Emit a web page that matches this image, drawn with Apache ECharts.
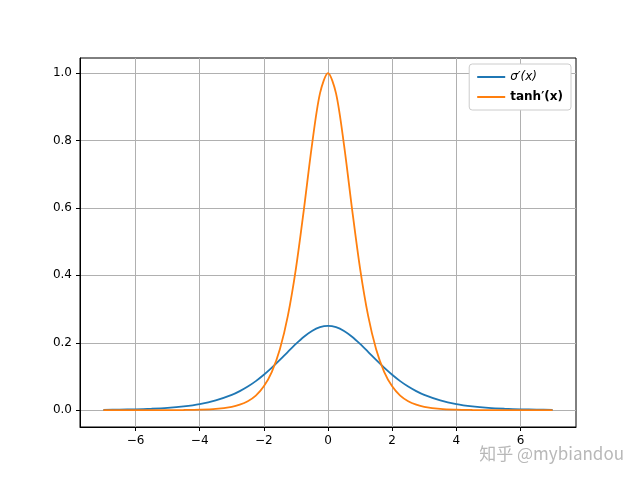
<html>
<head>
<script src="https://cdn.jsdelivr.net/npm/echarts@6/dist/echarts.min.js"></script>
</head>
<body style="margin:0">
<div id="main" style="width:640px;height:480px;"></div>
<script>
// x samples and curve values
var xs = [-7,-6.5,-6,-5.5,-5,-4.5,-4,-3.5,-3,-2.75,-2.5,-2.25,-2,-1.75,-1.5,-1.25,-1,-0.75,-0.5,-0.25,0,
          0.25,0.5,0.75,1,1.25,1.5,1.75,2,2.25,2.5,2.75,3,3.5,4,4.5,5,5.5,6,6.5,7];
var sigmaD = [0.0009,0.0015,0.0025,0.0041,0.0066,0.0109,0.0177,0.0287,0.0452,0.0565,0.0701,0.0862,0.1050,0.1261,0.1491,0.1731,0.1966,0.2179,0.2350,0.2461,0.25,
              0.2461,0.2350,0.2179,0.1966,0.1731,0.1491,0.1261,0.1050,0.0862,0.0701,0.0565,0.0452,0.0287,0.0177,0.0109,0.0066,0.0041,0.0025,0.0015,0.0009];
var tanhD = [0,0,0,0.0001,0.0002,0.0005,0.0013,0.0036,0.0099,0.0163,0.0266,0.0432,0.0707,0.1138,0.1807,0.2804,0.42,0.5967,0.7864,0.940,1,
             0.940,0.7864,0.5967,0.42,0.2804,0.1807,0.1138,0.0707,0.0432,0.0266,0.0163,0.0099,0.0036,0.0013,0.0005,0.0002,0.0001,0,0,0];
var xTicks = [-6,-4,-2,0,2,4,6];
var yTicks = [0,0.2,0.4,0.6,0.8,1.0];

function pairs(v) { return xs.map(function (x, i) { return [x, v[i]]; }); }

var chart = echarts.init(document.getElementById('main'));
chart.setOption({
  animation: false,
  textStyle: {fontFamily: 'DejaVu Sans'},
  graphic: [{type: 'text', right: 16, bottom: 18, style: {text: '知乎 @mybiandou', fill: '#b8b8b8', fontSize: 17, fontFamily: 'Noto Sans CJK SC'}}],
  grid: {left: 80, right: 64, top: 58, bottom: 53, show: true, borderColor: '#000', borderWidth: 1},
  legend: {
    right: 69, top: 64, orient: 'vertical', itemWidth: 28, itemHeight: 2, itemGap: 8,
    backgroundColor: '#fff', borderColor: '#ccc', borderWidth: 1, borderRadius: 3, padding: [7, 8],
    icon: 'rect',
    formatter: function (n) { return n === 's' ? '{i|σ′(x)}' : '{b|tanh′(x)}'; },
    textStyle: {color: '#000', fontSize: 12, rich: {i: {fontStyle: 'italic', fontSize: 12}, b: {fontWeight: 'bold', fontSize: 12}}}
  },
  xAxis: {
    type: 'value', min: -7.73, max: 7.73,
    axisLine: {onZero: false, lineStyle: {color: '#000'}},
    axisTick: {customValues: xTicks, length: 4, lineStyle: {color: '#000'}},
    axisLabel: {customValues: xTicks, color: '#000', fontSize: 12, formatter: function (v) { return v < 0 ? '−' + (-v) : v; }},
    splitLine: {show: true, lineStyle: {color: '#b0b0b0'}}
  },
  yAxis: {
    type: 'value', min: -0.05, max: 1.045,
    axisLine: {show: true, onZero: false, lineStyle: {color: '#000'}},
    axisTick: {show: true, customValues: yTicks, length: 4, lineStyle: {color: '#000'}},
    axisLabel: {customValues: yTicks, color: '#000', fontSize: 12, formatter: function (v) { return v.toFixed(1); }},
    splitLine: {show: true, lineStyle: {color: '#b0b0b0'}}
  },
  series: [
    {name: 's', type: 'line', data: pairs(sigmaD), smooth: 0.3, showSymbol: false, color: '#1f77b4', lineStyle: {width: 1.8}},
    {name: 't', type: 'line', data: pairs(tanhD), smooth: 0.3, showSymbol: false, color: '#ff7f0e', lineStyle: {width: 1.8}}
  ]
});
</script>
</body>
</html>
